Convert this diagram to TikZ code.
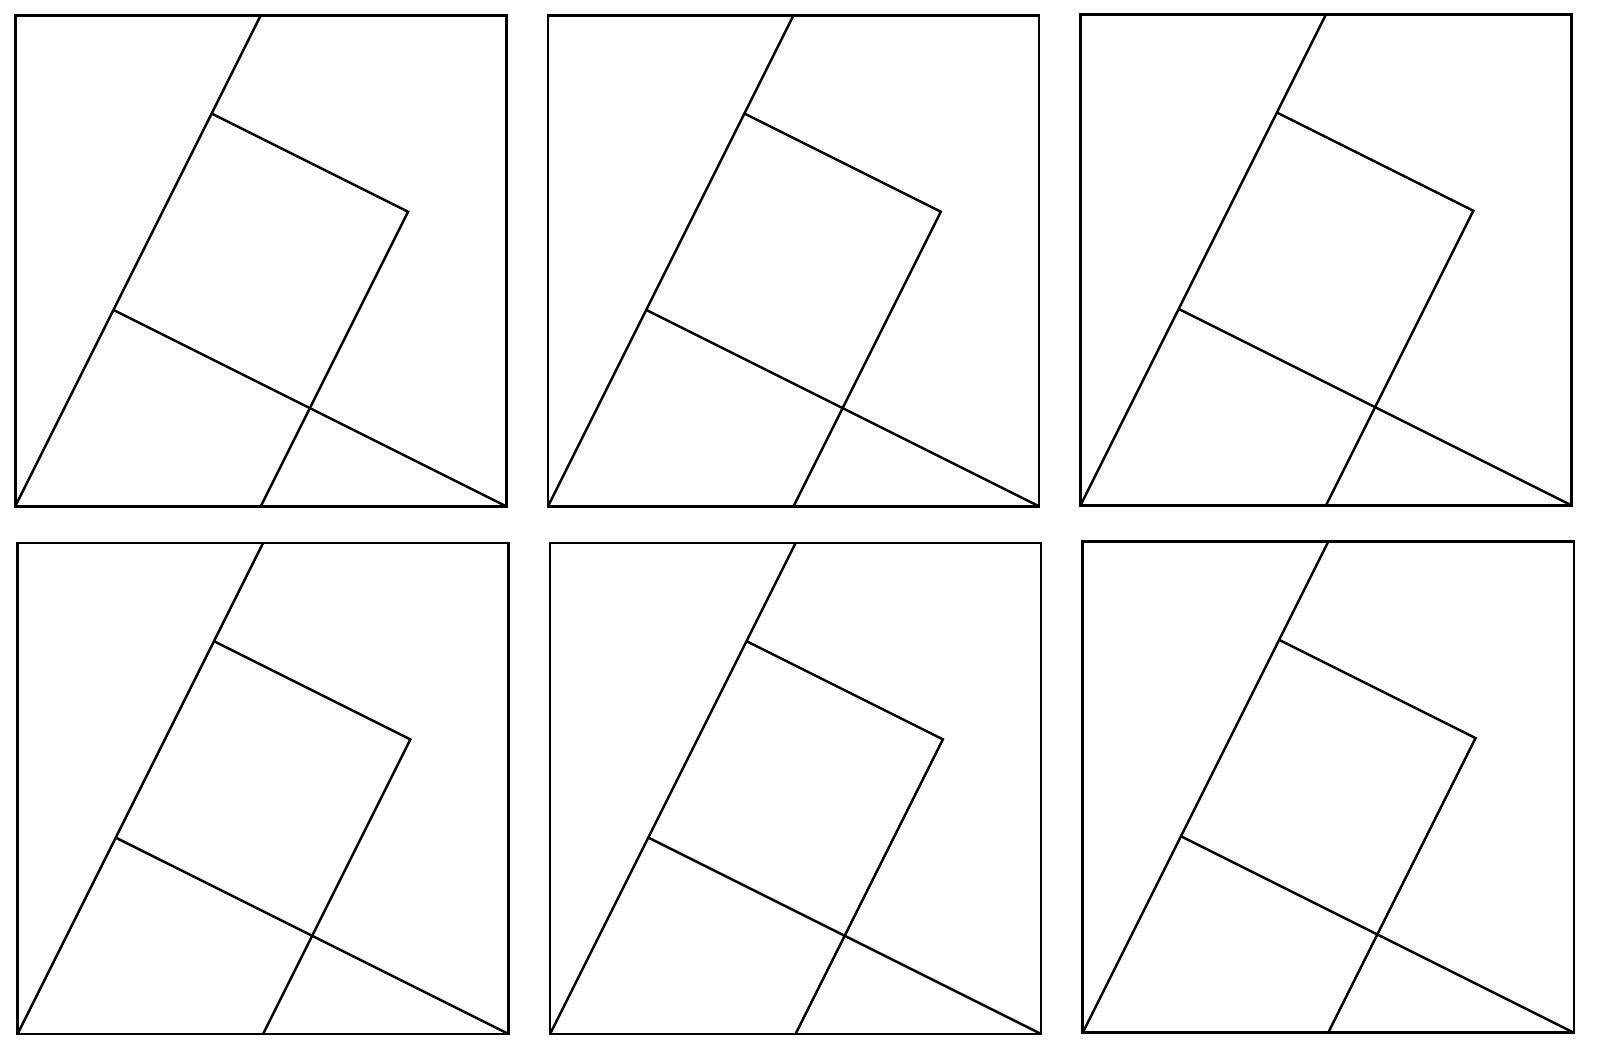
\documentclass[tikz,border=0pt]{standalone}
\begin{document}
\begin{tikzpicture}[line width=0.7pt,
  proof/.pic={
    \draw (0,0) rectangle (1,1);
    \draw (0,0) -- (0.5,1);
    \draw (1,0) -- (0.2,0.4);
    \draw (0.4,0.8) -- (0.8,0.6) -- (0.5,0);
  }]
\useasboundingbox (0,0) rectangle (16,10.54);
\foreach \px/\py in {0.153/5.477, 5.48/5.477, 10.805/5.487, 0.175/0.20, 5.50/0.20, 10.827/0.213}{
  \begin{scope}[shift={(\px,\py)}, x=4.91cm, y=4.91cm]
    \pic {proof};
  \end{scope}
}
\end{tikzpicture}
\end{document}
